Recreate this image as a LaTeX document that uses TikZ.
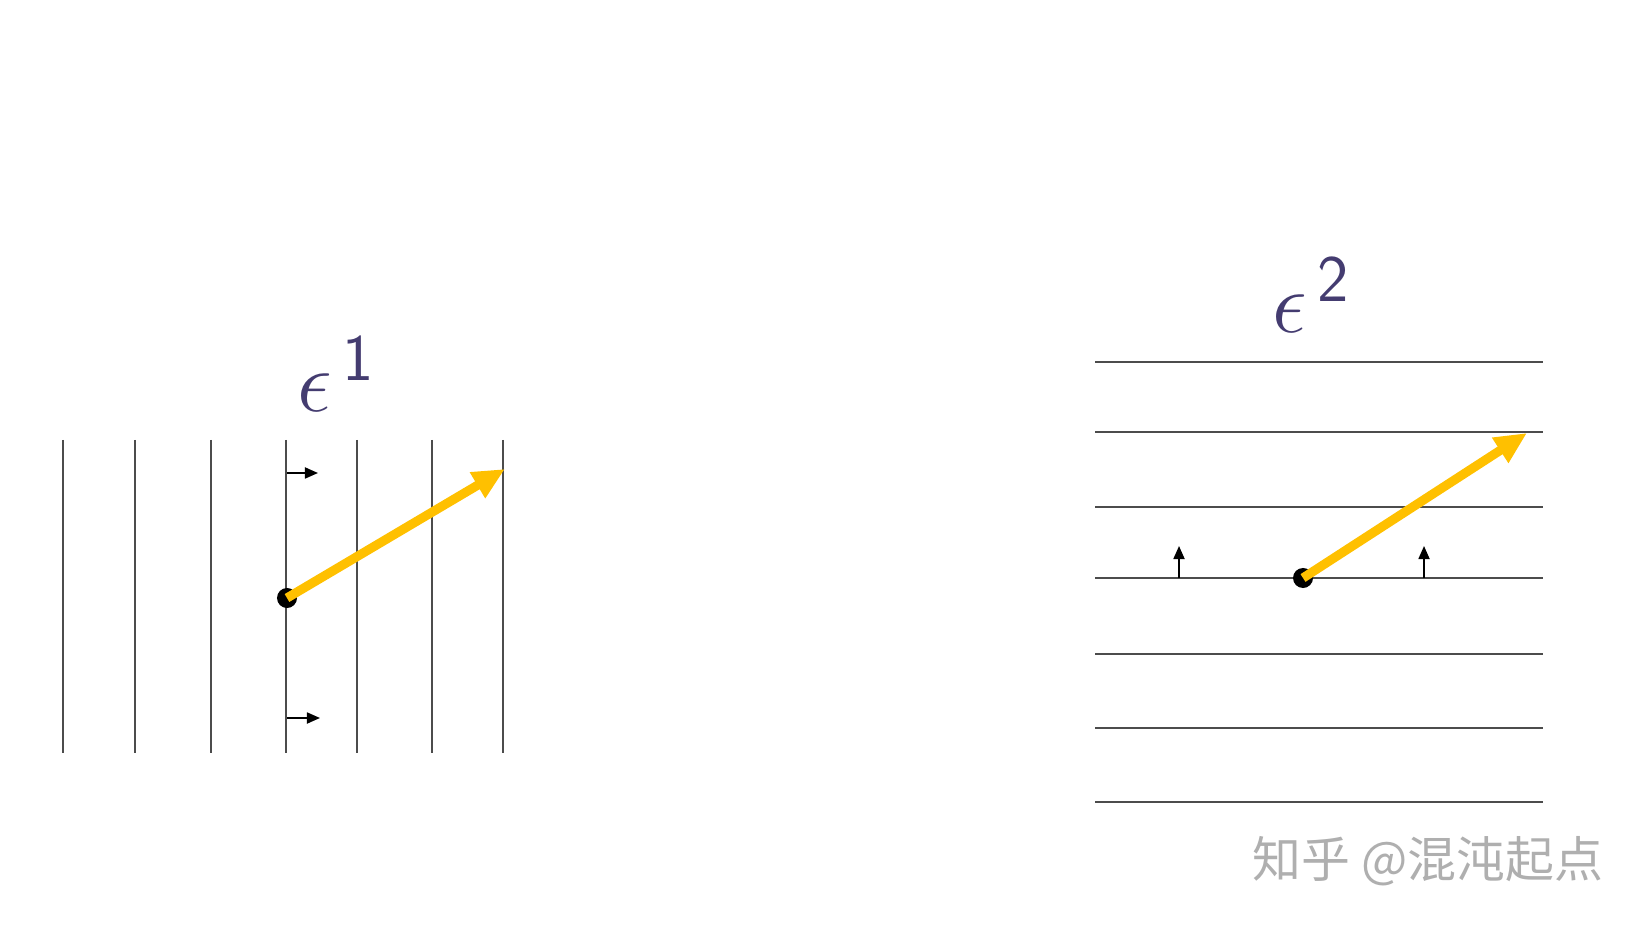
\documentclass[tikz,border=0pt]{standalone}
\usepackage{amsmath}
\usepackage{fontspec}
\newfontfamily\cjkfont{Noto Sans CJK SC}
\usetikzlibrary{arrows.meta,positioning}

\definecolor{covecpurple}{RGB}{68,60,112}
\definecolor{vecgold}{RGB}{255,192,0}
\definecolor{markgray}{RGB}{175,175,175}

\tikzset{
  levelline/.style={line width=0.55pt, black!70},
  vecarrow/.style={line width=2.6pt, vecgold, -{Triangle[length=0.32cm,width=0.28cm]}},
  normarrow/.style={line width=0.5pt, black, -{Triangle[length=0.13cm,width=0.11cm]}},
  basedot/.style={circle, fill=black, inner sep=0pt, minimum size=0.2cm},
  formlabel/.style={covecpurple, inner sep=0pt, anchor=base west, font=\fontsize{27}{30}\selectfont}
}

\begin{document}
\begin{tikzpicture}[x=0.01cm, y=-0.01cm]
				\useasboundingbox (0,0) rectangle (1643,928);
				% left: vertical level sets
				\foreach \px in {63,135,211,286,357,432,503}
					\draw[levelline] (\px,440) -- (\px,753);
				\node[formlabel] (eps1) at (297,412) {$\epsilon^{\,\mathsf{1}}$};
				\node[basedot] (o1) at (287,598) {};
				\coordinate (t1) at (505,469);
				\coordinate (na) at (287,473);
				\coordinate (nb) at (318,473);
				\coordinate (nc) at (287,718);
				\coordinate (nd) at (320,718);
				\draw[normarrow] (na) -- (nb);
				\draw[normarrow] (nc) -- (nd);
				\draw[vecarrow] (o1.center) -- (t1);
				% right: horizontal level sets
				\foreach \py in {362,432,507,578,654,728,802}
					\draw[levelline] (1095,\py) -- (1543,\py);
				\node[formlabel] (eps2) at (1272,333) {$\epsilon^{\,\mathsf{2}}$};
				\node[basedot] (o2) at (1303,578) {};
				\coordinate (t2) at (1527,433);
				\coordinate (ma) at (1179,578);
				\coordinate (mb) at (1179,546);
				\coordinate (mc) at (1424,578);
				\coordinate (md) at (1424,546);
				\draw[normarrow] (ma) -- (mb);
				\draw[normarrow] (mc) -- (md);
				\draw[vecarrow] (o2.center) -- (t2);
				% watermark
				\node[markgray, inner sep=0pt, anchor=west, font=\cjkfont\fontsize{13.9}{16}\selectfont] (mark) at (1252,861) {知乎 @混沌起点};
\end{tikzpicture}
\end{document}
